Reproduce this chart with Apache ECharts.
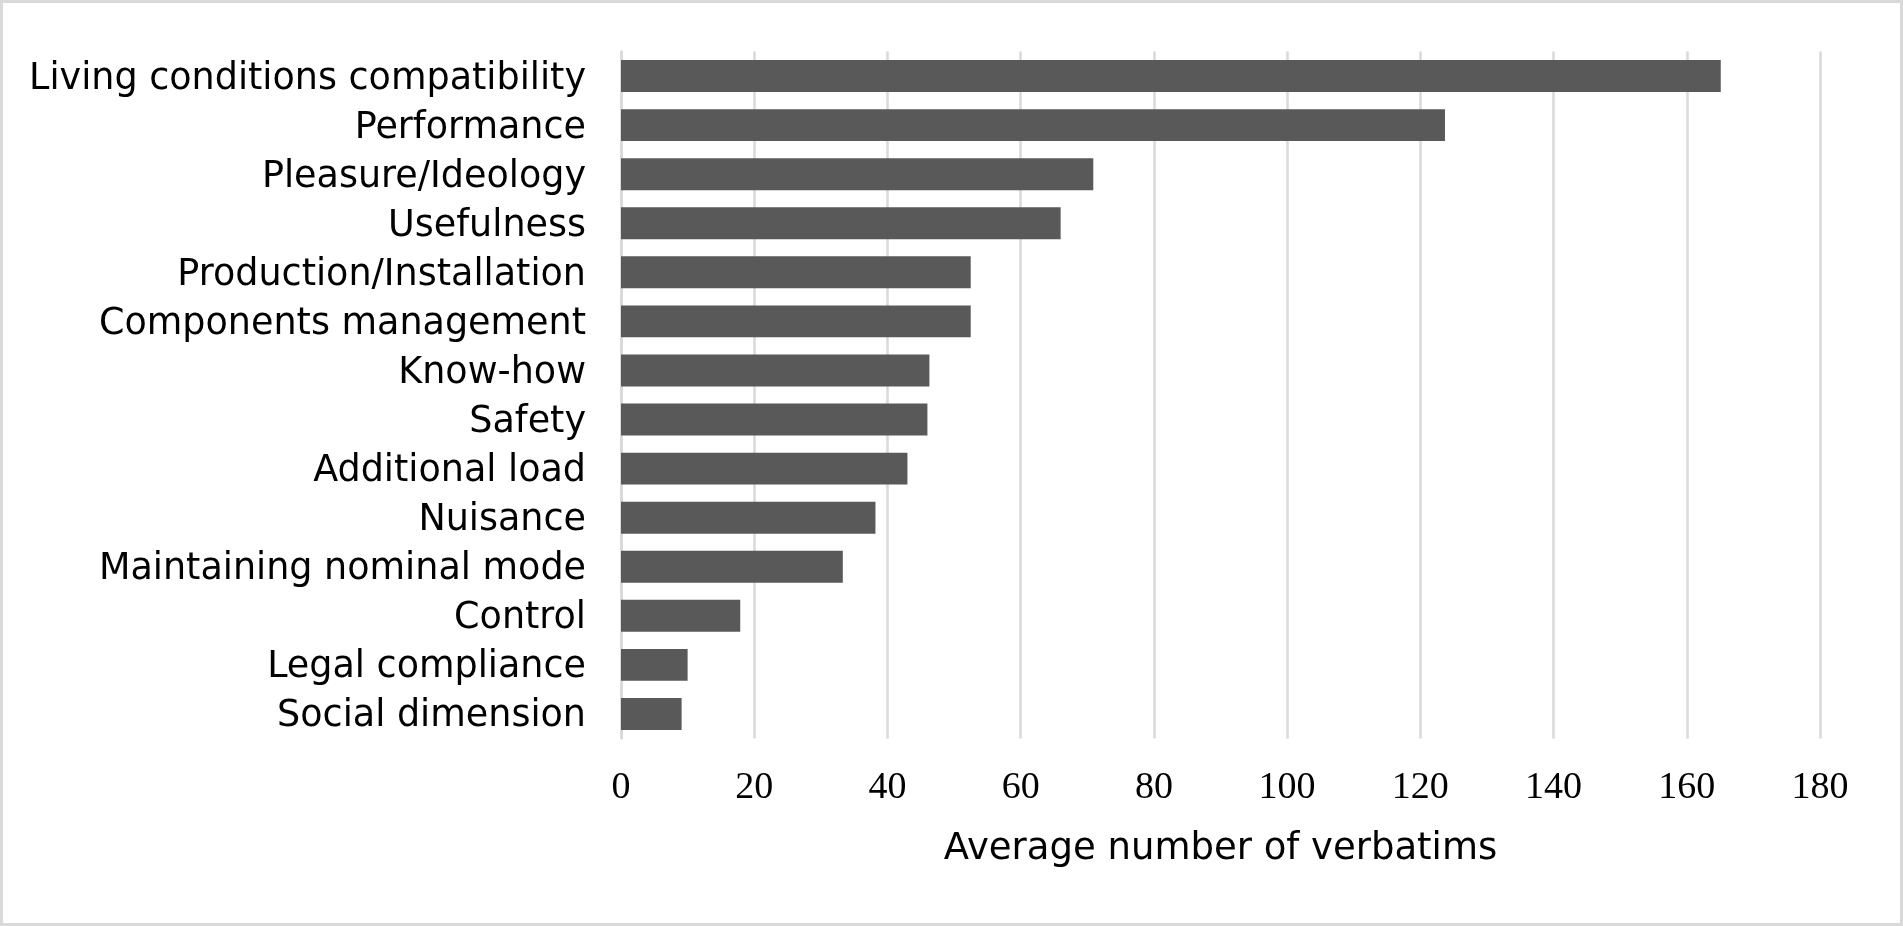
<!DOCTYPE html>
<html>
<head>
<meta charset="utf-8">
<script src="https://cdn.jsdelivr.net/npm/echarts@6/dist/echarts.min.js"></script>
<style>
html,body{margin:0;padding:0;background:#fff;}
#chart{width:1903px;height:926px;}
</style>
</head>
<body>
<div id="chart"></div>
<script>
const categories = [
  "Living conditions compatibility",
  "Performance",
  "Pleasure/Ideology",
  "Usefulness",
  "Production/Installation",
  "Components management",
  "Know-how",
  "Safety",
  "Additional load",
  "Nuisance",
  "Maintaining nominal mode",
  "Control",
  "Legal compliance",
  "Social dimension"
];
const values = [165.1, 123.7, 70.9, 66.0, 52.5, 52.5, 46.3, 46.0, 43.0, 38.2, 33.3, 17.9, 10.0, 9.1];
const xTicks = { min: 0, max: 180, interval: 20 };
const xAxisTitle = "Average number of verbatims";

const chart = echarts.init(document.getElementById('chart'), null, {renderer: 'canvas'});
chart.setOption({
  backgroundColor: '#ffffff',
  animation: false,
  graphic: [{
    type: 'rect',
    shape: {x: 1.5, y: 1.5, width: 1900, height: 923},
    style: {fill: 'none', stroke: '#d9d9d9', lineWidth: 3},
    silent: true
  }],
  grid: {left: 621, right: 83, top: 51.5, bottom: 187.5, containLabel: false},
  xAxis: {
    type: 'value',
    min: xTicks.min, max: xTicks.max, interval: xTicks.interval,
    axisLine: {show: false},
    axisTick: {show: false},
    splitLine: {show: true, lineStyle: {color: '#d9d9d9', width: 2.5}},
    axisLabel: {fontFamily: '"Liberation Serif", serif', fontSize: 38, color: '#000', margin: 31},
    name: xAxisTitle,
    nameLocation: 'middle',
    nameGap: 92,
    nameTextStyle: {fontFamily: '"DejaVu Sans", sans-serif', fontSize: 37, color: '#000'}
  },
  yAxis: {
    type: 'category',
    data: categories,
    inverse: true,
    axisLine: {show: true, lineStyle: {color: '#d9d9d9', width: 2.5}},
    axisTick: {show: false},
    axisLabel: {
      margin: 35,
      formatter: function (v) { return '{c|' + v + '}'; },
      rich: {
        c: {fontFamily: '"DejaVu Sans", sans-serif', fontSize: 36.5, color: '#000', padding: [6, 0, 0, 0]}
      }
    }
  },
  series: [{
    type: 'bar',
    data: values,
    barCategoryGap: '35%',
    itemStyle: {color: '#595959'},
    z: 3
  }]
});
</script>
</body>
</html>
